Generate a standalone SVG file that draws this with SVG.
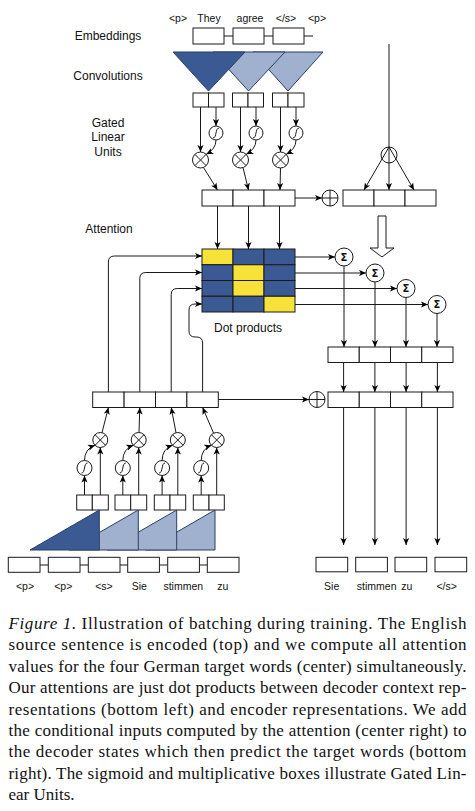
<svg xmlns="http://www.w3.org/2000/svg" width="475" height="811" viewBox="0 0 475 811">
<style>
.b{fill:#fff;stroke:#1a1a1a;stroke-width:1}
.c{fill:none;stroke:#1a1a1a;stroke-width:1}
.ar{marker-end:url(#ah)}
.dk{fill:#3b5a94;stroke:#2a3f68;stroke-width:1}
.lt{fill:#9fb1cf;stroke:#2a3f68;stroke-width:1}
.ye{fill:#f7e23a;stroke:#1a1a1a;stroke-width:1}
.bl{fill:#3b5a94;stroke:#1a1a1a;stroke-width:1}
.lbl{font-family:"Liberation Sans",Arial,sans-serif;font-size:12px;text-anchor:middle;fill:#111}
.w{font-family:"Liberation Sans",Arial,sans-serif;font-size:10.5px;text-anchor:middle;fill:#111}
.sg{font-family:"DejaVu Sans",sans-serif;font-size:10px;font-weight:bold;text-anchor:middle;fill:#111}
.cap{font-family:"Liberation Serif","Times New Roman",serif;font-size:17px;fill:#111}
</style>
<defs>
<marker id="ah" viewBox="0 0 8 8" refX="8" refY="4" markerWidth="7" markerHeight="7" orient="auto" markerUnits="userSpaceOnUse"><path d="M0,0.5 L8,4 L0,7.5 L2,4 z" fill="#000"/></marker>
</defs>

<g id="left-labels">
<text class="lbl" x="108" y="40">Embeddings</text>
<text class="lbl" x="108" y="80">Convolutions</text>
<text class="lbl" x="108" y="127">Gated</text>
<text class="lbl" x="108" y="141">Linear</text>
<text class="lbl" x="108" y="156">Units</text>
<text class="lbl" x="109" y="233">Attention</text>
</g>

<g id="src-embeddings">
<text class="w" x="178" y="21.5">&lt;p&gt;</text>
<text class="w" x="209" y="21.5">They</text>
<text class="w" x="250" y="21.5">agree</text>
<text class="w" x="286" y="21.5">&lt;/s&gt;</text>
<text class="w" x="317" y="21.5">&lt;p&gt;</text>
<line class="c" x1="224" y1="36" x2="233" y2="36"/>
<line class="c" x1="264" y1="36" x2="273" y2="36"/>
<line class="c" x1="304" y1="36" x2="313" y2="36"/>
<rect class="b" x="193" y="28" width="31" height="16"/>
<rect class="b" x="233" y="28" width="31" height="16"/>
<rect class="b" x="273" y="28" width="31" height="16"/>
</g>

<g id="src-convolutions">
<polygon class="lt" points="253,52 323,52 288,91"/>
<polygon class="lt" points="213,52 285,52 248.5,91"/>
<polygon class="dk" points="173,52 245,52 208.5,91"/>
</g>

<g id="src-glu-boxes">
<rect class="b" x="193" y="93" width="15.5" height="14"/><rect class="b" x="208.5" y="93" width="15.5" height="14"/>
<rect class="b" x="232.5" y="93" width="15.5" height="14"/><rect class="b" x="248" y="93" width="15.5" height="14"/>
<rect class="b" x="272.5" y="93" width="15.5" height="14"/><rect class="b" x="288" y="93" width="16" height="14"/>
</g>

<g id="src-sigmoids">
<circle class="b" cx="216" cy="133" r="7"/><path class="c" d="M213,138 C217,138 215,128 219,128"/>
<circle class="b" cx="256" cy="133" r="7"/><path class="c" d="M253,138 C257,138 255,128 259,128"/>
<circle class="b" cx="296" cy="133" r="7"/><path class="c" d="M293,138 C297,138 295,128 299,128"/>
</g>

<g id="src-mult">
<circle class="b" cx="200.5" cy="160" r="8"/><path class="c" d="M194.8,154.3 L206.2,165.7 M206.2,154.3 L194.8,165.7"/>
<circle class="b" cx="240.5" cy="160" r="8"/><path class="c" d="M234.8,154.3 L246.2,165.7 M246.2,154.3 L234.8,165.7"/>
<circle class="b" cx="280.5" cy="160" r="8"/><path class="c" d="M274.8,154.3 L286.2,165.7 M286.2,154.3 L274.8,165.7"/>
</g>

<g id="encoder-output">
<rect class="b" x="202" y="190" width="31" height="16"/>
<rect class="b" x="233" y="190" width="31" height="16"/>
<rect class="b" x="264" y="190" width="31" height="16"/>
</g>

<g id="plus-top">
<circle class="b" cx="330" cy="198" r="8"/><path class="c" d="M322,198 H338 M330,190 V206"/>
</g>

<g id="encoder-plus-embedding">
<rect class="b" x="343" y="190" width="31" height="16"/>
<rect class="b" x="374" y="190" width="31" height="16"/>
<rect class="b" x="405" y="190" width="31" height="16"/>
</g>

<g id="split">
<circle class="b" cx="389" cy="155" r="8"/>
</g>

<g id="hollow-arrow">
<polygon class="b" points="378,216 386,216 386,248 394,248 382,257 370,248 378,248"/>
</g>

<g id="dot-products">
<rect class="ye" x="202" y="249" width="31" height="15.75"/>
<rect class="bl" x="233" y="249" width="31" height="15.75"/>
<rect class="bl" x="264" y="249" width="31" height="15.75"/>
<rect class="bl" x="202" y="264.75" width="31" height="15.75"/>
<rect class="ye" x="233" y="264.75" width="31" height="15.75"/>
<rect class="bl" x="264" y="264.75" width="31" height="15.75"/>
<rect class="bl" x="202" y="280.5" width="31" height="15.75"/>
<rect class="ye" x="233" y="280.5" width="31" height="15.75"/>
<rect class="bl" x="264" y="280.5" width="31" height="15.75"/>
<rect class="bl" x="202" y="296.25" width="31" height="15.75"/>
<rect class="bl" x="233" y="296.25" width="31" height="15.75"/>
<rect class="ye" x="264" y="296.25" width="31" height="15.75"/>
<text class="lbl" x="248" y="332">Dot products</text>
</g>

<g id="sums">
<circle class="b" cx="344" cy="257" r="9"/><text class="sg" x="344" y="260.8">Σ</text>
<circle class="b" cx="375" cy="273" r="9"/><text class="sg" x="375" y="276.8">Σ</text>
<circle class="b" cx="406" cy="288.5" r="9"/><text class="sg" x="406" y="292.3">Σ</text>
<circle class="b" cx="437" cy="304.5" r="9"/><text class="sg" x="437" y="308.3">Σ</text>
</g>

<g id="conditional-inputs">
<rect class="b" x="328" y="347" width="31.25" height="15.5"/>
<rect class="b" x="359.25" y="347" width="31.25" height="15.5"/>
<rect class="b" x="390.5" y="347" width="31.25" height="15.5"/>
<rect class="b" x="421.75" y="347" width="31.25" height="15.5"/>
</g>

<g id="plus-bottom">
<circle class="b" cx="317" cy="399.5" r="8"/><path class="c" d="M309,399.5 H325 M317,391.5 V407.5"/>
</g>

<g id="decoder-output">
<rect class="b" x="328" y="392" width="31.25" height="15.5"/>
<rect class="b" x="359.25" y="392" width="31.25" height="15.5"/>
<rect class="b" x="390.5" y="392" width="31.25" height="15.5"/>
<rect class="b" x="421.75" y="392" width="31.25" height="15.5"/>
</g>

<g id="decoder-context">
<rect class="b" x="92.7" y="392" width="31.4" height="15.5"/>
<rect class="b" x="124.1" y="392" width="31.4" height="15.5"/>
<rect class="b" x="155.5" y="392" width="31.4" height="15.5"/>
<rect class="b" x="186.9" y="392" width="31.4" height="15.5"/>
</g>

<g id="tgt-mult">
<circle class="b" cx="100.3" cy="440" r="7.5"/><path class="c" d="M95,434.7 L105.6,445.3 M105.6,434.7 L95,445.3"/>
<circle class="b" cx="138.7" cy="440" r="7.5"/><path class="c" d="M133.4,434.7 L144,445.3 M144,434.7 L133.4,445.3"/>
<circle class="b" cx="177.8" cy="440" r="7.5"/><path class="c" d="M172.5,434.7 L183.1,445.3 M183.1,434.7 L172.5,445.3"/>
<circle class="b" cx="216.7" cy="440" r="7.5"/><path class="c" d="M211.4,434.7 L222,445.3 M222,434.7 L211.4,445.3"/>
</g>

<g id="tgt-sigmoids">
<circle class="b" cx="84.5" cy="468" r="7.5"/><path class="c" d="M81.5,473 C85.5,473 83.5,463 87.5,463"/>
<circle class="b" cx="122.8" cy="468" r="7.5"/><path class="c" d="M119.8,473 C123.8,473 121.8,463 125.8,463"/>
<circle class="b" cx="162.1" cy="468" r="7.5"/><path class="c" d="M159.1,473 C163.1,473 161.1,463 165.1,463"/>
<circle class="b" cx="201.2" cy="468" r="7.5"/><path class="c" d="M198.2,473 C202.2,473 200.2,463 204.2,463"/>
</g>

<g id="tgt-glu-boxes">
<rect class="b" x="76.7" y="495" width="15.6" height="15"/><rect class="b" x="92.3" y="495" width="16" height="15"/>
<rect class="b" x="115" y="495" width="15.7" height="15"/><rect class="b" x="130.7" y="495" width="16" height="15"/>
<rect class="b" x="154.3" y="495" width="15.7" height="15"/><rect class="b" x="170" y="495" width="15.7" height="15"/>
<rect class="b" x="193.3" y="495" width="15.7" height="15"/><rect class="b" x="209" y="495" width="15.3" height="15"/>
</g>

<g id="tgt-convolutions">
<polygon class="lt" points="145.7,550 215,510 215,550"/>
<polygon class="lt" points="107.4,550 176.7,510 176.7,550"/>
<polygon class="lt" points="69,550 138.3,510 138.3,550"/>
<polygon class="dk" points="30,550 99.3,510 99.3,550"/>
</g>

<g id="tgt-embeddings">
<line class="c" x1="40" y1="565" x2="48.3" y2="565"/>
<line class="c" x1="80" y1="565" x2="88.3" y2="565"/>
<line class="c" x1="120" y1="565" x2="127.7" y2="565"/>
<line class="c" x1="159.4" y1="565" x2="167.7" y2="565"/>
<line class="c" x1="199.4" y1="565" x2="207.3" y2="565"/>
<rect class="b" x="8.3" y="557.3" width="31.7" height="15"/>
<rect class="b" x="48.3" y="557.3" width="31.7" height="15"/>
<rect class="b" x="88.3" y="557.3" width="31.7" height="15"/>
<rect class="b" x="127.7" y="557.3" width="31.7" height="15"/>
<rect class="b" x="167.7" y="557.3" width="31.7" height="15"/>
<rect class="b" x="207.3" y="557.3" width="31.7" height="15"/>
<text class="w" x="25" y="590">&lt;p&gt;</text>
<text class="w" x="63.3" y="590">&lt;p&gt;</text>
<text class="w" x="104" y="590">&lt;s&gt;</text>
<text class="w" x="139.3" y="590">Sie</text>
<text class="w" x="183.3" y="590">stimmen</text>
<text class="w" x="222.7" y="590">zu</text>
</g>

<g id="predictions">
<rect class="b" x="316" y="557.3" width="31.7" height="14.5"/>
<rect class="b" x="355.7" y="557.3" width="31.7" height="14.5"/>
<rect class="b" x="395" y="557.3" width="31.7" height="14.5"/>
<rect class="b" x="435" y="557.3" width="31.7" height="14.5"/>
<text class="w" x="331.7" y="590">Sie</text>
<text class="w" x="376.7" y="590">stimmen</text>
<text class="w" x="406.7" y="590">zu</text>
<text class="w" x="446.7" y="590">&lt;/s&gt;</text>
</g>

<g id="connectors" class="c">
<path class="ar" d="M216,107 V126"/>
<path class="ar" d="M256,107 V126"/>
<path class="ar" d="M296,107 V126"/>
<path class="ar" d="M200.5,107 V152"/>
<path class="ar" d="M240.5,107 V152"/>
<path class="ar" d="M280.5,107 V152"/>
<path class="ar" d="M216,140 Q216,149 206.2,154.3"/>
<path class="ar" d="M256,140 Q256,149 246.2,154.3"/>
<path class="ar" d="M296,140 Q296,149 286.2,154.3"/>
<path class="ar" d="M203.5,167.5 L217.5,190"/>
<path class="ar" d="M243,167.6 L248.5,190"/>
<path class="ar" d="M280.5,168 L280,190"/>
<path class="ar" d="M295,198 H322"/>
<path class="ar" d="M389,44 V190"/>
<path class="ar" d="M389,147 L364,190"/>
<path class="ar" d="M389,147 L414,190"/>
<path class="ar" d="M217.5,206 V249"/>
<path class="ar" d="M248.5,206 V249"/>
<path class="ar" d="M279.5,206 V249"/>
<path class="ar" d="M295,257 H335"/>
<path class="ar" d="M295,273 H366"/>
<path class="ar" d="M295,288.5 H397"/>
<path class="ar" d="M295,304.5 H428"/>
<path class="ar" d="M344,266 V347"/>
<path class="ar" d="M375,282 V347"/>
<path class="ar" d="M406,297.5 V347"/>
<path class="ar" d="M437,313.5 V347"/>
<path class="ar" d="M343.6,362.5 V392"/>
<path class="ar" d="M374.9,362.5 V392"/>
<path class="ar" d="M406.1,362.5 V392"/>
<path class="ar" d="M437.4,362.5 V392"/>
<path class="ar" d="M218.3,399.5 H309"/>
<path class="ar" d="M343.6,407.5 V545"/>
<path class="ar" d="M374.9,407.5 V545"/>
<path class="ar" d="M406.1,407.5 V545"/>
<path class="ar" d="M437.4,407.5 V545"/>
<path class="ar" d="M108.4,392 V262 Q108.4,256 114.4,256 H202"/>
<path class="ar" d="M139.8,392 V278.5 Q139.8,272.5 145.8,272.5 H202"/>
<path class="ar" d="M171.2,392 V294.5 Q171.2,288.5 177.2,288.5 H202"/>
<path class="ar" d="M202.6,392 V343 Q202.6,337 196.6,337 H195 Q189,337 189,331 V310 Q189,304 195,304 H202"/>
<path class="ar" d="M102,432.7 L108.4,407.5"/>
<path class="ar" d="M139,432.5 L139.8,407.5"/>
<path class="ar" d="M176,432.7 L171.2,407.5"/>
<path class="ar" d="M213.6,433.2 L202.6,407.5"/>
<path class="ar" d="M100.3,495 V447.5"/>
<path class="ar" d="M138.7,495 V447.5"/>
<path class="ar" d="M177.8,495 V447.5"/>
<path class="ar" d="M216.7,495 V447.5"/>
<path class="ar" d="M84.5,495 V475.5"/>
<path class="ar" d="M122.8,495 V475.5"/>
<path class="ar" d="M162.1,495 V475.5"/>
<path class="ar" d="M201.2,495 V475.5"/>
<path class="ar" d="M84.5,460.5 Q84.5,449 95,445.3"/>
<path class="ar" d="M122.8,460.5 Q122.8,449 133.4,445.3"/>
<path class="ar" d="M162.1,460.5 Q162.1,449 172.5,445.3"/>
<path class="ar" d="M201.2,460.5 Q201.2,449 211.4,445.3"/>
</g>

<g id="caption">
<text class="cap" x="8.5" y="629" textLength="458" lengthAdjust="spacing"><tspan font-style="italic">Figure 1.</tspan> Illustration of batching during training.  The English</text>
<text class="cap" x="8.5" y="650.4" textLength="458" lengthAdjust="spacing">source sentence is encoded (top) and we compute all attention</text>
<text class="cap" x="8.5" y="671.8" textLength="458" lengthAdjust="spacing">values for the four German target words (center) simultaneously.</text>
<text class="cap" x="8.5" y="693.2" textLength="458" lengthAdjust="spacing">Our attentions are just dot products between decoder context rep-</text>
<text class="cap" x="8.5" y="714.6" textLength="458" lengthAdjust="spacing">resentations (bottom left) and encoder representations.  We add</text>
<text class="cap" x="8.5" y="736" textLength="458" lengthAdjust="spacing">the conditional inputs computed by the attention (center right) to</text>
<text class="cap" x="8.5" y="757.4" textLength="458" lengthAdjust="spacing">the decoder states which then predict the target words (bottom</text>
<text class="cap" x="8.5" y="778.8" textLength="458" lengthAdjust="spacing">right). The sigmoid and multiplicative boxes illustrate Gated Lin-</text>
<text class="cap" x="8.5" y="800.2">ear Units.</text>
</g>
</svg>
